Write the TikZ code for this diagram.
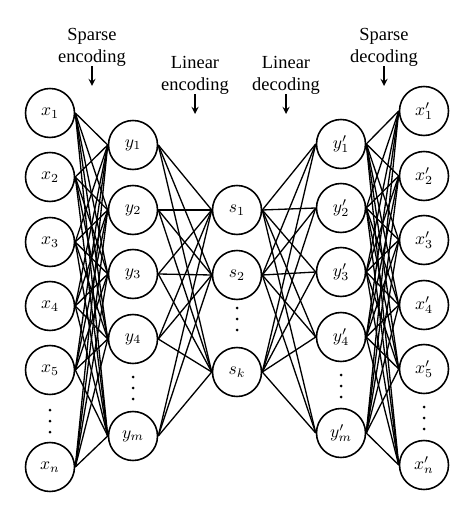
\documentclass[tikz,border=0pt]{standalone}
\usepackage{fontspec}
\setmainfont{Liberation Serif}

\tikzset{
  unit/.style={draw, circle, line width=0.9pt, minimum size=0.98cm, inner sep=0pt, fill=white},
  link/.style={line width=0.75pt},
  stage/.style={align=center, font=\fontsize{10.5}{12.5}\selectfont, inner sep=1pt}
}

\begin{document}
\begin{tikzpicture}[x=0.02cm, y=-0.02cm]
\useasboundingbox (0,0) rectangle (474,516);
% --- stage captions ---
\node[stage] (capse) at (92,47) {Sparse\\encoding};
\node[stage] (caple) at (195,75) {Linear\\encoding};
\node[stage] (capld) at (286,75) {Linear\\decoding};
\node[stage] (capsd) at (384,47) {Sparse\\decoding};
\coordinate (ase) at (92,86);
\coordinate (ale) at (195,114);
\coordinate (ald) at (286,114);
\coordinate (asd) at (384,86);
\draw[-stealth, line width=0.8pt] (capse.south) ++(0,-2) -- (ase);
\draw[-stealth, line width=0.8pt] (caple.south) ++(0,-2) -- (ale);
\draw[-stealth, line width=0.8pt] (capld.south) ++(0,-2) -- (ald);
\draw[-stealth, line width=0.8pt] (capsd.south) ++(0,-2) -- (asd);
% --- input layer ---
\node[unit] (x1) at (50,113) {$x_1$};
\node[unit] (x2) at (50,177) {$x_2$};
\node[unit] (x3) at (50,242) {$x_3$};
\node[unit] (x4) at (50,306) {$x_4$};
\node[unit] (x5) at (50,370) {$x_5$};
\node[unit] (x6) at (50,467) {$x_n$};
% --- sparse hidden layer ---
\node[unit] (y1) at (133,145) {$y_1$};
\node[unit] (y2) at (133,210) {$y_2$};
\node[unit] (y3) at (133,274) {$y_3$};
\node[unit] (y4) at (133,339) {$y_4$};
\node[unit] (y5) at (133,436) {$y_m$};
% --- code layer ---
\node[unit] (s1) at (237,210) {$s_1$};
\node[unit] (s2) at (237,275) {$s_2$};
\node[unit] (s3) at (237,372) {$s_k$};
% --- decoded hidden layer ---
\node[unit] (v1) at (341,144) {$y_1'$};
\node[unit] (v2) at (341,208) {$y_2'$};
\node[unit] (v3) at (341,272) {$y_3'$};
\node[unit] (v4) at (341,337) {$y_4'$};
\node[unit] (v5) at (341,433) {$y_m'$};
% --- output layer ---
\node[unit] (u1) at (424,111) {$x_1'$};
\node[unit] (u2) at (424,176) {$x_2'$};
\node[unit] (u3) at (424,240) {$x_3'$};
\node[unit] (u4) at (424,305) {$x_4'$};
\node[unit] (u5) at (424,369) {$x_5'$};
\node[unit] (u6) at (424,465) {$x_n'$};
% --- dots ---
\foreach \cx/\cy in {50/410, 133/377, 237/308, 341/375, 424/407}{
  \foreach \k in {0,1,2}
    \fill (\cx,\cy+11*\k) circle (1.5);
}
% --- connections ---
\foreach \i in {1,...,6}
  \foreach \j in {1,...,5}
    \draw[link] (x\i.east) -- (y\j.west);
\foreach \i in {1,...,5}
  \foreach \j in {1,...,3}
    \draw[link] (y\i.east) -- (s\j.west);
\foreach \i in {1,...,3}
  \foreach \j in {1,...,5}
    \draw[link] (s\i.east) -- (v\j.west);
\foreach \i in {1,...,5}
  \foreach \j in {1,...,6}
    \draw[link] (v\i.east) -- (u\j.west);
\end{tikzpicture}
\end{document}
